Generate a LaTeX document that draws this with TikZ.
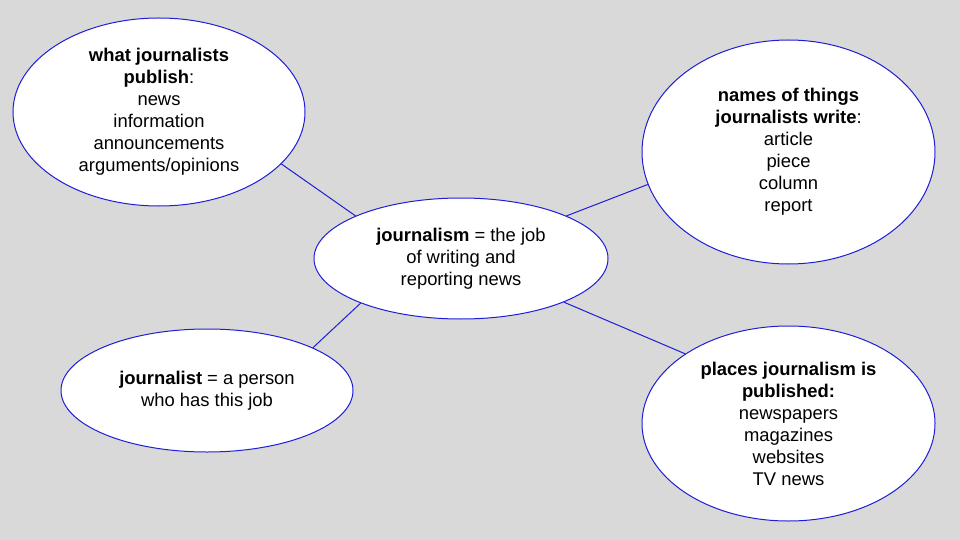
\documentclass[tikz,border=0pt]{standalone}
\usepackage{fontspec}
\setmainfont{Liberation Sans}
\usetikzlibrary{shapes.geometric}

\definecolor{slidegray}{RGB}{217,217,217}
\definecolor{linkblue}{RGB}{30,30,215}

\begin{document}
\begin{tikzpicture}[x=1pt, y=-1pt,
    bubble/.style={ellipse, draw=linkblue, fill=white, line width=1pt, inner sep=0pt,
        align=center, font=\fontsize{18.4}{22}\selectfont},
    link/.style={draw=linkblue, line width=1pt}]
            \fill[slidegray] (0,0) rectangle (960,540);

            \coordinate (C0) at (461,258.5);
            \coordinate (C1) at (159,112);
            \coordinate (C2) at (788.5,152);
            \coordinate (C3) at (207,390.5);
            \coordinate (C4) at (788.5,423.5);

            \node[bubble, minimum width=294pt, minimum height=121pt] (job) at (C0)
                {\textbf{journalism} = the job\\of writing and\\reporting news};
            \node[bubble, minimum width=292pt, minimum height=188pt] (what) at (C1)
                {\textbf{what journalists}\\\textbf{publish}:\\news\\information\\announcements\\arguments/opinions};
            \node[bubble, minimum width=293pt, minimum height=224pt] (names) at (C2)
                {\textbf{names of things}\\\textbf{journalists write}:\\article\\piece\\column\\report};
            \node[bubble, minimum width=292pt, minimum height=123pt] (person) at (C3)
                {\textbf{journalist} = a person\\who has this job};
            \node[bubble, minimum width=293pt, minimum height=195pt] (places) at (C4)
                {\textbf{places journalism is}\\\textbf{published:}\\newspapers\\magazines\\websites\\TV news};

            % links from the middle bubble
            \draw[link] (what.-23.4) -- (job.158);
            \draw[link] (job.22.9) -- (names.-167.3);
            \draw[link] (job.-156.4) -- (person.22.8);
            \draw[link] (job.-23.3) -- (places.146.4);
        \end{tikzpicture}
\end{document}
